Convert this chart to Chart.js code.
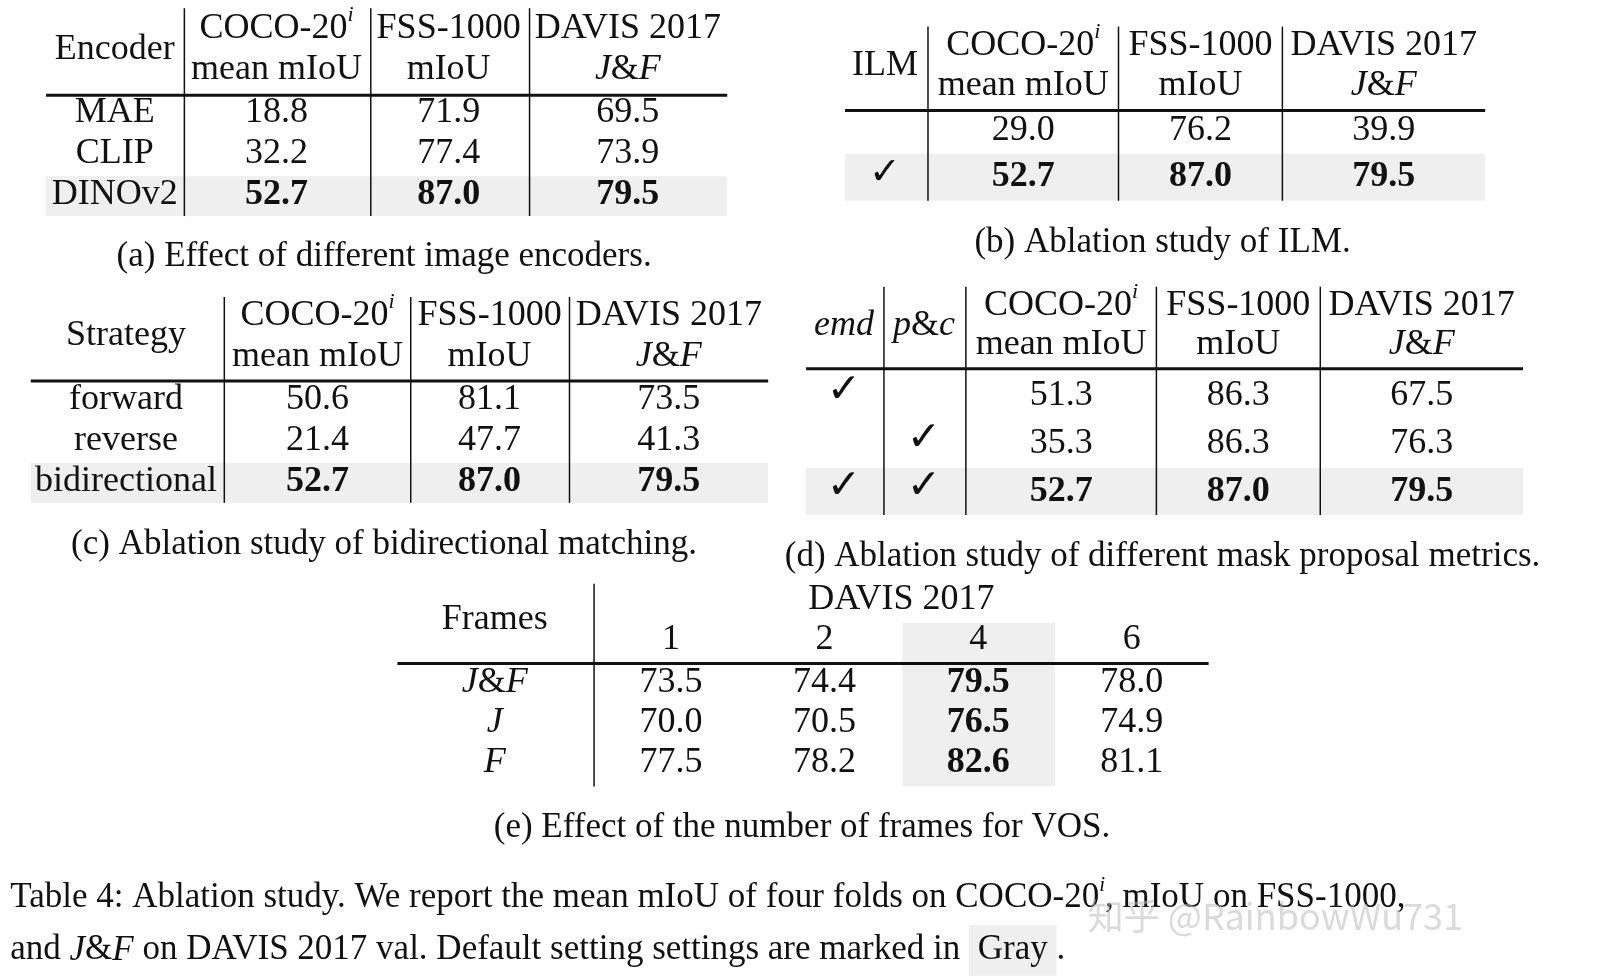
<!DOCTYPE html>
<html><head><meta charset="utf-8">
<script src="https://cdn.jsdelivr.net/npm/chart.js@4"></script>
<style>html,body{margin:0;padding:0;background:#fff}#c{display:block}</style>
</head><body>
<div style="width:1604px;height:980px"><canvas id="c"></canvas></div>
<script>
// ---- data ----
const encoders = ['MAE','CLIP','DINOv2'];
const encCoco = [18.8,32.2,52.7], encFss = [71.9,77.4,87.0], encDavis = [69.5,73.9,79.5];
const ilmFlags = [false,true];
const ilmCoco = [29.0,52.7], ilmFss = [76.2,87.0], ilmDavis = [39.9,79.5];
const strategies = ['forward','reverse','bidirectional'];
const strCoco = [50.6,21.4,52.7], strFss = [81.1,47.7,87.0], strDavis = [73.5,41.3,79.5];
const emdFlags = [true,false,true], pcFlags = [false,true,true];
const metCoco = [51.3,35.3,52.7], metFss = [86.3,86.3,87.0], metDavis = [67.5,76.3,79.5];
const frames = [1,2,4,6];
const jfVals = [73.5,74.4,79.5,78.0], jVals = [70.0,70.5,76.5,74.9], fVals = [77.5,78.2,82.6,81.1];
const captions = ['(a) Effect of different image encoders.','(b) Ablation study of ILM.',
 '(c) Ablation study of bidirectional matching.','(d) Ablation study of different mask proposal metrics.',
 '(e) Effect of the number of frames for VOS.'];

const SERIF = "'Liberation Serif','DejaVu Serif',serif";
const K = 1604/1566;
const tablePlugin = {
 id:'tables',
 afterDraw(chart){
  const ctx = chart.ctx, sx = chart.scales.x, sy = chart.scales.y;
  const X = v=>sx.getPixelForValue(v), Y = v=>sy.getPixelForValue(v);
  ctx.save(); ctx.fillStyle='#111'; ctx.strokeStyle='#111'; ctx.textBaseline='middle';
  const font=(s,size)=>{size=size*K*1.1;return `${s.i?'italic ':''}${s.b?'bold ':''}${s.sup?Math.round(size*0.6):Math.round(size)}px ${s.f||SERIF}`;};
  function rich(segs,cx,cy,size=32,align='center'){
   if(typeof segs==='string') segs=[{t:segs}];
   let w=0; segs.forEach(s=>{ctx.font=font(s,size);w+=ctx.measureText(s.t).width;});
   let x = align==='center'? X(cx)-w/2 : X(cx);
   segs.forEach(s=>{ctx.font=font(s,size);const sw=ctx.measureText(s.t).width;
    if(s.g){ctx.fillStyle='#efefef';ctx.fillRect(x,Y(cy)-size*K*0.8,sw,size*K*1.6);ctx.fillStyle='#111';}
    ctx.fillText(s.t,x,Y(cy)+(s.sup?-size*K*0.4:0));x+=sw;});
  }
  const line=(x1,y1,x2,y2,w=1.5)=>{ctx.lineWidth=w;ctx.beginPath();ctx.moveTo(X(x1),Y(y1));ctx.lineTo(X(x2),Y(y2));ctx.stroke();};
  const gray=(x1,y1,x2,y2)=>{ctx.fillStyle='#efefef';ctx.fillRect(X(x1),Y(y1),X(x2)-X(x1),Y(y2)-Y(y1));ctx.fillStyle='#111';};
  const coco=[{t:'COCO-20'},{t:'i',i:1,sup:1}], JF=[{t:'J',i:1},{t:'&'},{t:'F',i:1}];
  const CHECK=[{t:'✓',f:"'DejaVu Sans'"}];
  const f1=v=>v.toFixed(1);
  function hdr(cols,y1,y2){cols.forEach(c=>{rich(c[1],c[0],y1);rich(c[2],c[0],y2);});}

  // (a)
  gray(45,172,710,211);
  hdr([[270,coco,'mean mIoU'],[438,'FSS-1000','mIoU'],[613,'DAVIS 2017',JF]],28,68);
  rich('Encoder',112,48);
  line(45,93,710,93,3);
  [180,362,517].forEach(x=>line(x,8,x,211));
  encoders.forEach((e,i)=>{const b=i===2;const y=110+40*i;
   rich([{t:e}],112,y);rich([{t:f1(encCoco[i]),b}],270,y);rich([{t:f1(encFss[i]),b}],438,y);rich([{t:f1(encDavis[i]),b}],613,y);});
  rich(captions[0],375,251,31);

  // (b)
  gray(825,150,1450,196);
  hdr([[999,coco,'mean mIoU'],[1172,'FSS-1000','mIoU'],[1351,'DAVIS 2017',JF]],44,84);
  rich('ILM',864,64);
  line(825,108,1450,108,3);
  [906,1092,1252].forEach(x=>line(x,26,x,196));
  ilmFlags.forEach((f,i)=>{const b=f;const y=i?173:127;
   if(f) rich(CHECK,864,y-3,34);
   rich([{t:f1(ilmCoco[i]),b}],999,y);rich([{t:f1(ilmFss[i]),b}],1172,y);rich([{t:f1(ilmDavis[i]),b}],1351,y);});
  rich(captions[1],1135,237,31);

  // (c)
  gray(30,452,750,491);
  hdr([[310,coco,'mean mIoU'],[478,'FSS-1000','mIoU'],[653,'DAVIS 2017',JF]],308,348);
  rich('Strategy',123,328);
  line(30,372,750,372,3);
  [219,401,556].forEach(x=>line(x,290,x,491));
  strategies.forEach((s,i)=>{const b=i===2;const y=390+40*i;
   rich(s,123,y);rich([{t:f1(strCoco[i]),b}],310,y);rich([{t:f1(strFss[i]),b}],478,y);rich([{t:f1(strDavis[i]),b}],653,y);});
  rich(captions[2],375,532,31);

  // (d)
  gray(787,457,1487,503);
  hdr([[1036,coco,'mean mIoU'],[1209,'FSS-1000','mIoU'],[1388,'DAVIS 2017',JF]],298,336);
  rich([{t:'emd',i:1}],824,318);rich([{t:'p',i:1},{t:'&'},{t:'c',i:1}],902,318);
  line(787,360,1487,360,3);
  [863,943,1129,1289].forEach(x=>line(x,280,x,503));
  emdFlags.forEach((e,i)=>{const b=i===2;const y=386+47*i;
   if(e) rich(CHECK,824,y-4,36); if(pcFlags[i]) rich(CHECK,902,y-4,36);
   rich([{t:f1(metCoco[i]),b}],1036,y);rich([{t:f1(metFss[i]),b}],1209,y);rich([{t:f1(metDavis[i]),b}],1388,y);});
  rich(captions[3],1135,544,31);

  // (e)
  gray(881,608,1030,768);
  rich('Frames',483,605);rich('DAVIS 2017',880,585);
  const fx=[655,805,955,1105];
  frames.forEach((f,i)=>rich(String(f),fx[i],625));
  line(388,648,1180,648,3);
  line(580,570,580,768);
  [[JF,jfVals],[[{t:'J',i:1}],jVals],[[{t:'F',i:1}],fVals]].forEach((r,k)=>{const y=667+39*k;
   rich(r[0],483,y);r[1].forEach((v,i)=>rich([{t:f1(v),b:i===2}],fx[i],y));});
  rich(captions[4],783,808,31);

  // footer
  rich([{t:'Table 4: Ablation study. We report the mean mIoU of four folds on '},{t:'COCO-20'},{t:'i',i:1,sup:1},{t:', mIoU on FSS-1000,'}],10,877,31,'left');
  rich([{t:'and '},{t:'J',i:1},{t:'&'},{t:'F',i:1},{t:' on DAVIS 2017 val. Default setting settings are marked in '},{t:' Gray ',g:1},{t:'.'}],10,928,31,'left');
  ctx.globalAlpha=0.55; ctx.fillStyle='#bbb';
  ctx.font="36px 'Noto Sans CJK SC',sans-serif"; ctx.fillText('知乎 @RainbowWu731',X(1062),Y(895));
  ctx.restore();
 }
};
new Chart(document.getElementById('c'),{
 type:'scatter',
 data:{datasets:[{data:[]}]},
 options:{responsive:true,maintainAspectRatio:false,animation:false,
  layout:{padding:0},
  plugins:{legend:{display:false},tooltip:{enabled:false}},
  scales:{x:{type:'linear',min:0,max:1566,display:false},y:{type:'linear',min:0,max:957,reverse:true,display:false}}},
 plugins:[tablePlugin]
});
</script></body></html>
